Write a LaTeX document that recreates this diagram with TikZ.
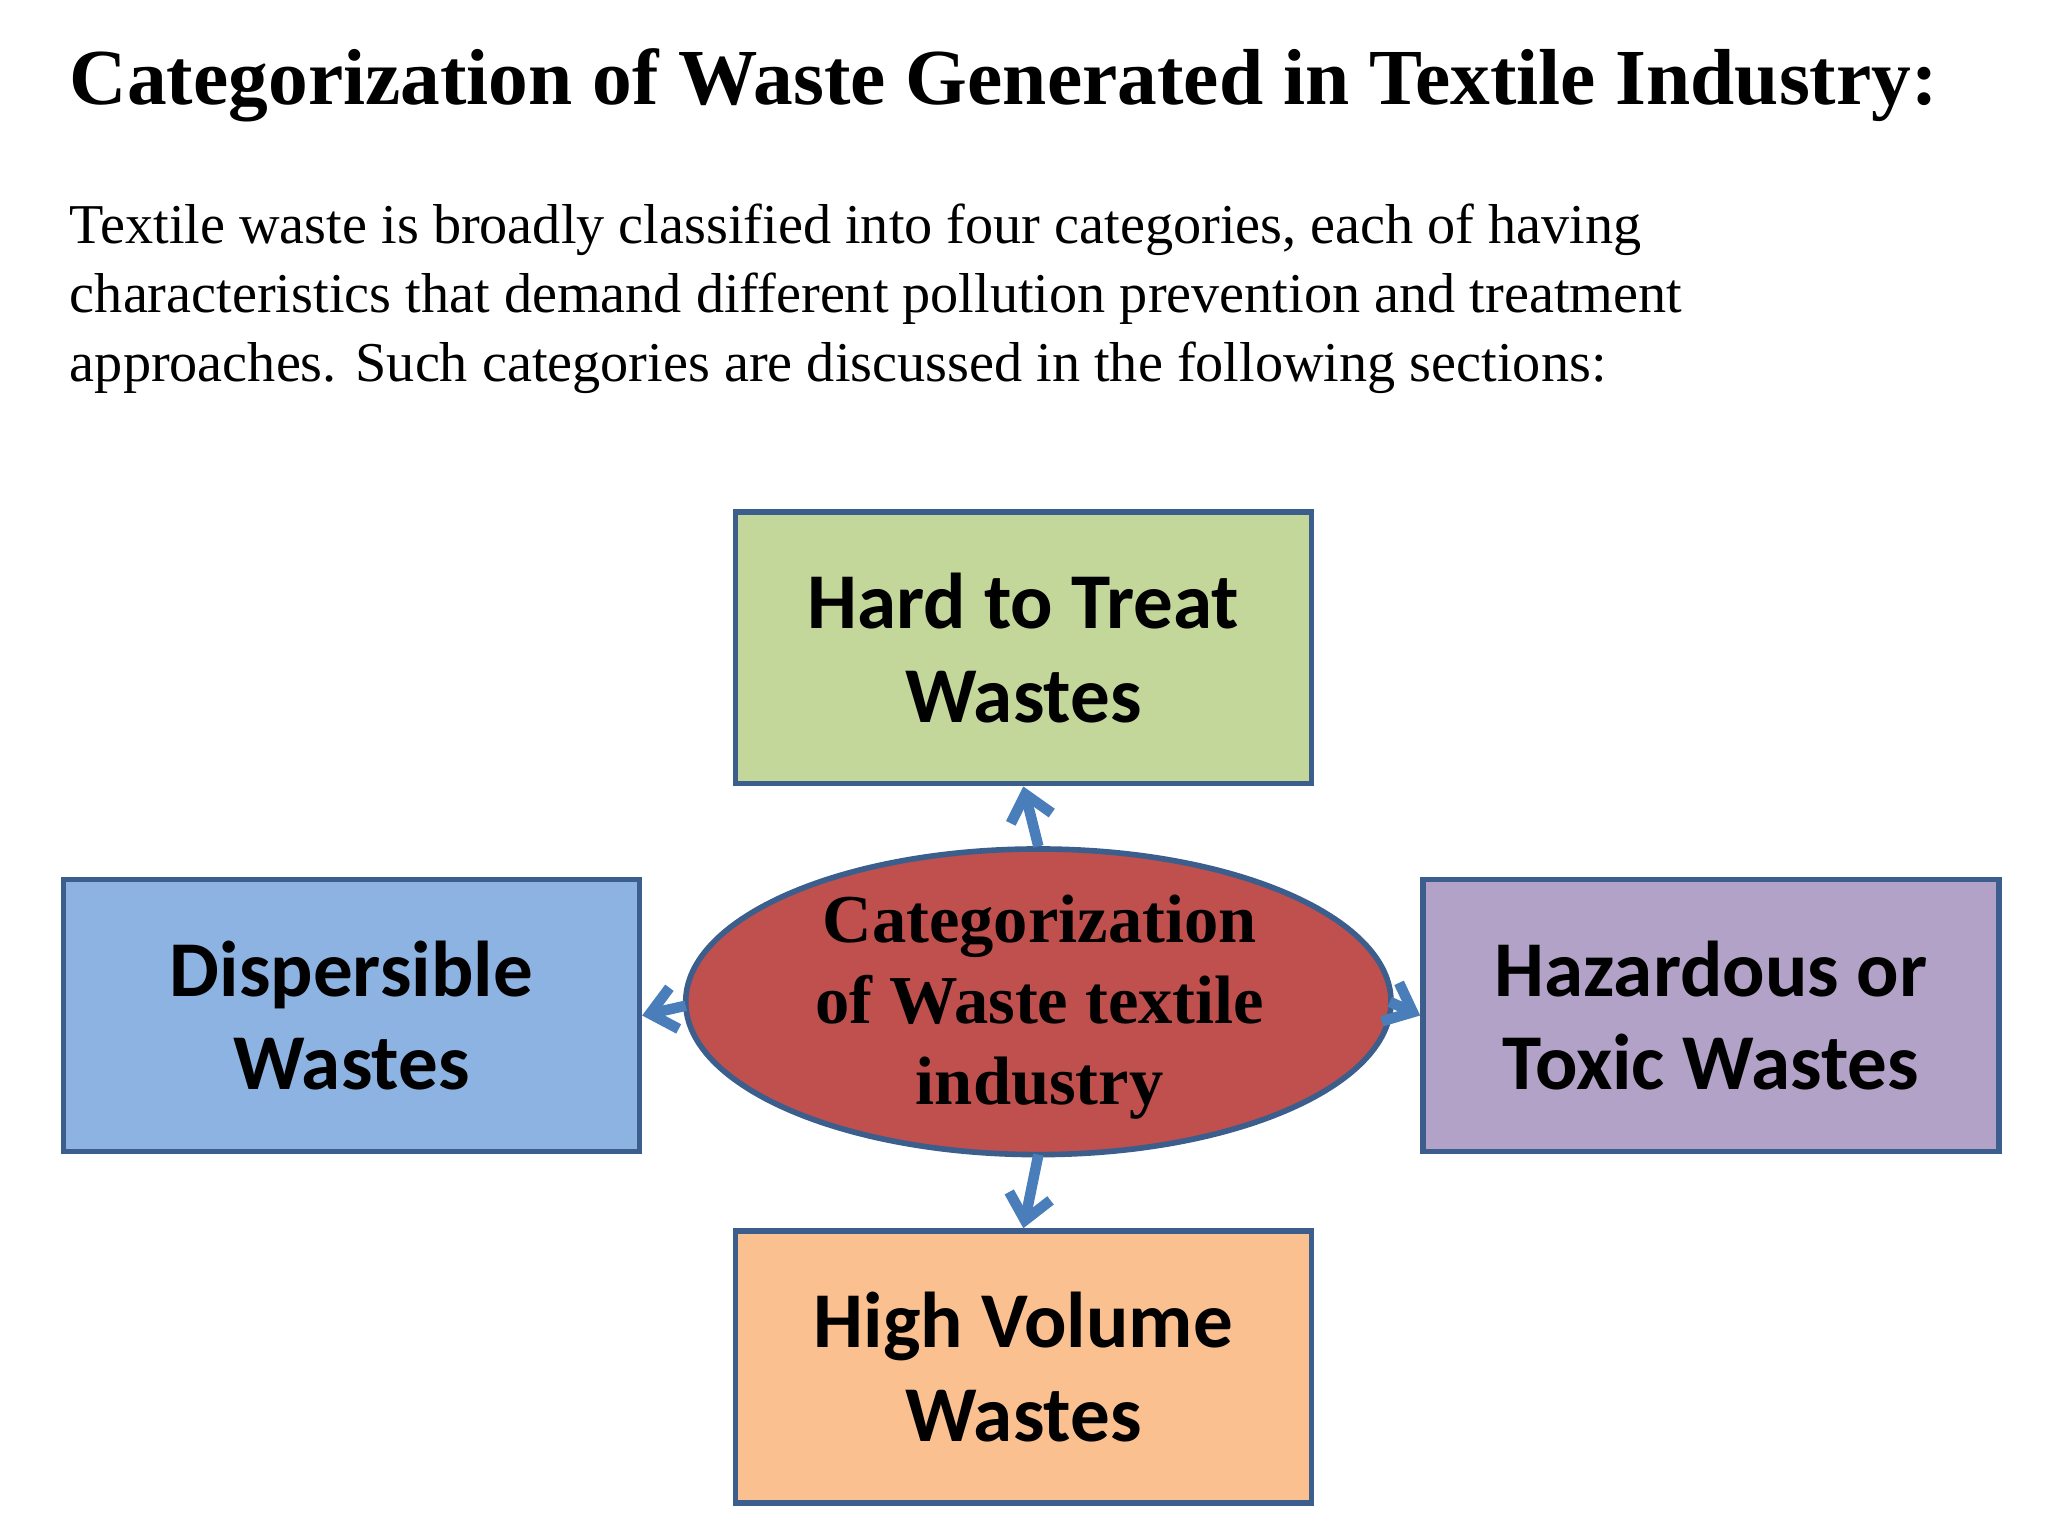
\documentclass[tikz,border=0pt]{standalone}
\usepackage{fontspec}
\setmainfont{Liberation Serif}
\newfontfamily\boxfont{Carlito}
\usetikzlibrary{arrows.meta}
\definecolor{bord}{HTML}{3B5E8C}
\definecolor{gr}{HTML}{C4D79B}
\definecolor{bl}{HTML}{8DB3E2}
\definecolor{pu}{HTML}{B3A2C7}
\definecolor{or}{HTML}{FAC090}
\definecolor{rd}{HTML}{C0504D}
\definecolor{arr}{HTML}{4A7EBB}
\begin{document}
\begin{tikzpicture}[x=0.01306cm,y=-0.01306cm,
  cat/.style={draw=bord,line width=1.6pt,minimum width=441*0.01306cm,minimum height=208*0.01306cm,
    font=\boxfont\bfseries\fontsize{22.5}{26.7}\selectfont,align=center},
  link/.style={draw=arr,line width=3pt,-{Straight Barb[length=7pt,width=12pt]}}]
\useasboundingbox (0,0) rectangle (1568,1176);
\node[anchor=base west,inner sep=0pt,font=\bfseries\fontsize{22.6}{26}\selectfont] (title) at (53,80) {Categorization of Waste Generated in Textile Industry:};
\node[anchor=base west,align=left,inner sep=0pt,font=\fontsize{16}{19.6}\selectfont] (body) at (53,292)
 {Textile waste is broadly classified into four categories, each of having\\
  characteristics that demand different pollution prevention and treatment\\
  approaches. Such categories are discussed in the following sections:};
\node[cat,fill=gr] (top) at (783.5,496) {Hard to Treat\\Wastes};
\node[cat,fill=bl] (left) at (269,777.5) {Dispersible\\Wastes};
\node[cat,fill=pu] (right) at (1310,777.5) {Hazardous or\\Toxic Wastes};
\node[cat,fill=or] (bot) at (783.5,1046.5) {High Volume\\Wastes};
\draw[draw=bord,fill=rd,line width=1.6pt] (795,767) ellipse [x radius=270,y radius=117];
\node[align=center,font=\bfseries\fontsize{19.5}{23}\selectfont] (c) at (796,771) {Categorization\\of Waste textile\\industry};
\coordinate (ct) at (795,648); \coordinate (cl) at (525,770);
\coordinate (cr) at (1064,767); \coordinate (cb) at (795,884);
\draw[link] (ct) -- (top.south);
\draw[link] (cl) -- (left.east);
\draw[link] (cr) -- (right.west);
\draw[link] (cb) -- (bot.north);
\end{tikzpicture}
\end{document}
